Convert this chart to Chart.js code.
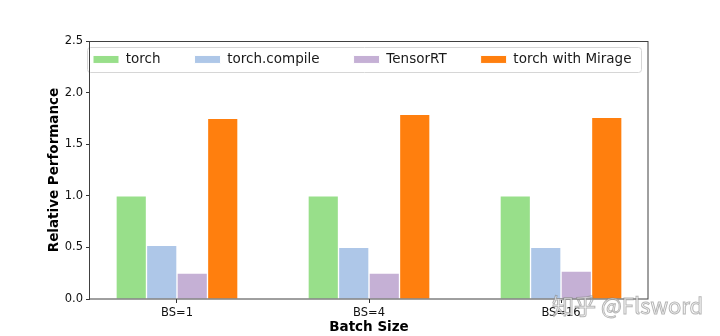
<!DOCTYPE html>
<html>
<head>
<meta charset="utf-8">
<script src="https://cdn.jsdelivr.net/npm/chart.js@4.4.1/dist/chart.umd.min.js"></script>
<style>
  html, body { margin: 0; padding: 0; background: #fff; }
  #wrap { width: 720px; height: 336px; position: relative; }
</style>
</head>
<body>
<div id="wrap"><canvas id="c" width="720" height="336"></canvas></div>
<script>
// ---- data ----
const categories = ['BS=1', 'BS=4', 'BS=16'];
const seriesNames = ['torch', 'torch.compile', 'TensorRT', 'torch with Mirage'];
const torchValues = [1.0, 1.0, 1.0];
const compileValues = [0.52, 0.50, 0.50];
const tensorrtValues = [0.25, 0.25, 0.27];
const mirageValues = [1.75, 1.79, 1.76];
const yTickValues = [0, 0.5, 1.0, 1.5, 2.0, 2.5];
const xAxisTitle = 'Batch Size';
const yAxisTitle = 'Relative Performance';
const watermark = '知乎 @Flsword';

const colors = ['#98df8a', '#aec7e8', '#c5b0d5', '#ff7f0e'];
const allValues = [torchValues, compileValues, tensorrtValues, mirageValues];

const datasets = seriesNames.map((name, s) => ({
  label: name,
  data: categories.map((c, i) => ({ x: i, y: allValues[s][i] })),
  backgroundColor: colors[s],
  borderColor: '#ffffff',
  borderWidth: 1,
  borderSkipped: 'bottom',
  barThickness: 30.5
}));

const LEG = { left: 87, right: 641, top: 47, bottom: 72 };

const framePlugin = {
  id: 'framePlugin',
  afterInit(chart) {
    const lg = chart.legend;
    if (lg && !lg._wrapped) {
      const f = lg.fit;
      lg.fit = function () { f.call(this); this.height = 0; };
      lg._wrapped = true;
    }
  },
  beforeDraw(chart) {
    const ctx = chart.ctx;
    const lg = chart.legend;
    const pad = lg.options.labels.padding;
    lg.left = 93 - pad;
    lg.right = 715;
    lg.width = lg.right - lg.left;
    lg.top = 52.7 - pad;
    lg.bottom = LEG.bottom + 5;
    lg.height = lg.bottom - lg.top;
    // legend frame
    ctx.save();
    const x = LEG.left + 0.5, y = LEG.top + 0.5, w = LEG.right - LEG.left, h = LEG.bottom - LEG.top, r = 3;
    ctx.beginPath();
    ctx.moveTo(x + r, y);
    ctx.lineTo(x + w - r, y); ctx.quadraticCurveTo(x + w, y, x + w, y + r);
    ctx.lineTo(x + w, y + h - r); ctx.quadraticCurveTo(x + w, y + h, x + w - r, y + h);
    ctx.lineTo(x + r, y + h); ctx.quadraticCurveTo(x, y + h, x, y + h - r);
    ctx.lineTo(x, y + r); ctx.quadraticCurveTo(x, y, x + r, y);
    ctx.closePath();
    ctx.fillStyle = 'rgba(255,255,255,0.8)';
    ctx.fill();
    ctx.strokeStyle = '#d6d6d6';
    ctx.lineWidth = 1;
    ctx.stroke();
    ctx.restore();
  },
  afterDraw(chart) {
    const ctx = chart.ctx;
    const a = chart.chartArea;
    ctx.save();
    ctx.strokeStyle = '#404040';
    ctx.lineWidth = 1;
    ctx.strokeRect(Math.round(a.left) - 0.5, Math.round(a.top) + 0.5, Math.round(a.right - a.left) + 0.5, Math.round(a.bottom - a.top) - 0.5);
    // watermark
    ctx.font = '22px "Noto Sans CJK SC", "DejaVu Sans", sans-serif';
    ctx.textBaseline = 'middle';
    ctx.textAlign = 'left';
    ctx.lineWidth = 1;
    ctx.strokeStyle = 'rgba(120,120,120,0.55)';
    ctx.fillStyle = 'rgba(255,255,255,0.75)';
    ctx.fillText(watermark, 552, 306);
    ctx.strokeText(watermark, 552, 306);
    ctx.restore();
  }
};

new Chart(document.getElementById('c'), {
  type: 'bar',
  data: { datasets },
  plugins: [framePlugin],
  options: {
    responsive: false,
    animation: false,
    events: [],
    layout: { padding: { left: 0, right: 72, top: 41, bottom: 0 } },
    plugins: {
      tooltip: { enabled: false },
      legend: {
        display: true,
        position: 'top',
        align: 'start',
        labels: {
          boxWidth: 26,
          boxHeight: 8,
          padding: 34,
          color: '#1a1a1a',
          font: { family: '"DejaVu Sans", sans-serif', size: 13.5 }
        }
      }
    },
    scales: {
      x: {
        type: 'linear',
        min: -0.453,
        max: 2.453,
        offset: false,
        afterFit(scale) { scale.height = 37; },
        afterBuildTicks(scale) { scale.ticks = categories.map((c, i) => ({ value: i })); },
        grid: { display: true, offset: false, drawOnChartArea: false, drawTicks: true, tickLength: 4, color: '#333' },
        border: { display: false },
        ticks: {
          autoSkip: false,
          maxRotation: 0,
          padding: 3,
          color: '#111',
          font: { family: '"DejaVu Sans", sans-serif', size: 11.5 },
          callback: (v) => categories[v]
        },
        title: {
          display: true,
          text: xAxisTitle,
          color: '#000',
          padding: { top: 0, bottom: 0 },
          font: { family: '"DejaVu Sans", sans-serif', size: 13.5, weight: 'bold' }
        }
      },
      y: {
        min: 0,
        max: 2.5,
        afterFit(scale) { scale.width = 90; },
        afterBuildTicks(scale) { scale.ticks = yTickValues.map(v => ({ value: v })); },
        grid: { display: true, drawOnChartArea: false, drawTicks: true, tickLength: 4, color: '#333' },
        border: { display: false },
        ticks: {
          padding: 3,
          color: '#111',
          font: { family: '"DejaVu Sans", sans-serif', size: 11.5 },
          callback: (v) => Number(v).toFixed(1)
        },
        title: {
          display: true,
          text: yAxisTitle,
          color: '#000',
          padding: { top: 45.9, bottom: 0 },
          font: { family: '"DejaVu Sans", sans-serif', size: 13.5, weight: 'bold' }
        }
      }
    }
  }
});
</script>
</body>
</html>
